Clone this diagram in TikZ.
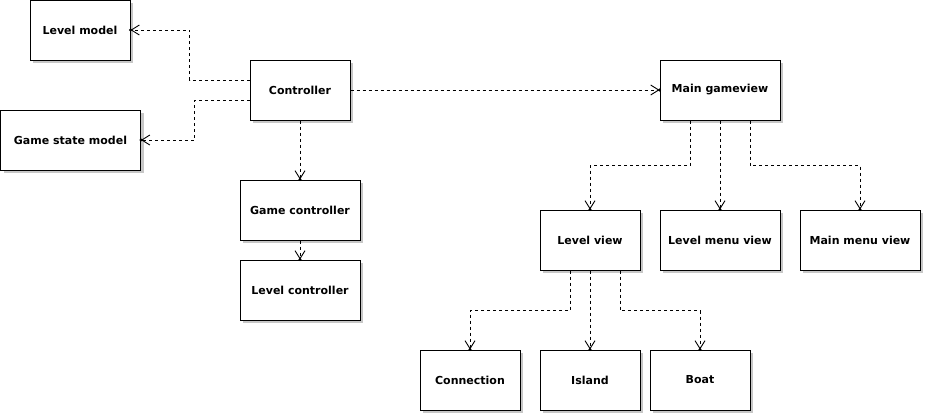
\documentclass[tikz,border=0pt]{standalone}
\usepackage{fontspec}
\setmainfont{DejaVu Sans}
\usetikzlibrary{arrows.meta,shadows}
\begin{document}
\begin{tikzpicture}[x=1pt,y=-1pt,
  box/.style={draw=black, line width=1pt, fill=white, minimum width=#1,
    minimum height=60pt, inner sep=0pt, font=\bfseries\fontsize{11}{13}\selectfont,
    drop shadow={shadow xshift=3pt, shadow yshift=-3pt, fill=black!22, opacity=1}},
  dep/.style={draw=black, line width=0.9pt, dash pattern=on 3pt off 3pt,
    -{Straight Barb[length=8pt,width=10pt,line width=0.9pt]}},
  tipdot/.style={fill=black}]
\useasboundingbox (0,0) rectangle (925,415);
\fill[white] (0,0) rectangle (925,415);

\node[box=100pt] (lm)   at (80,30)   {Level model};
\node[box=100pt] (ctrl) at (300,90)  {Controller};
\node[box=140pt] (gsm)  at (70.5,140) {Game state model};
\node[box=120pt] (gc)   at (300,210) {Game controller};
\node[box=120pt] (lc)   at (300,290) {Level controller};
\node[box=120pt] (mg)   at (720,90)  {Main gameview};
\node[box=100pt] (lv)   at (590,240) {Level view};
\node[box=120pt] (lmv)  at (720,240) {Level menu view};
\node[box=120pt] (mmv)  at (860,240) {Main menu view};
\node[box=100pt] (con)  at (470,380) {Connection};
\node[box=100pt] (isl)  at (590,380) {Island};
\node[box=100pt] (boat) at (700,380) {Boat};

\draw[dep] ([yshift=10pt]ctrl.west) -- ++(-60,0) |- (lm.east);
\draw[dep] ([yshift=-10pt]ctrl.west) -- ++(-55,0) |- (gsm.east);
\draw[dep] (ctrl.east) -- (mg.west);
\draw[dep] (ctrl.south) -- (gc.north);
\draw[dep] (gc.south) -- (lc.north);
\draw[dep] ([xshift=-30pt]mg.south) -- ++(0,45) -| (lv.north);
\draw[dep] (mg.south) -- (lmv.north);
\draw[dep] ([xshift=30pt]mg.south) -- ++(0,45) -| (mmv.north);
\draw[dep] ([xshift=-20pt]lv.south) -- ++(0,40) -| (con.north);
\draw[dep] (lv.south) -- (isl.north);
\draw[dep] ([xshift=30pt]lv.south) -- ++(0,40) -| (boat.north);

\foreach \p in {lm.east,gsm.east,mg.west,gc.north,lc.north,lv.north,lmv.north,mmv.north,con.north,isl.north,boat.north}
  \fill[tipdot] (\p) circle (1.6pt);
\end{tikzpicture}
\end{document}
